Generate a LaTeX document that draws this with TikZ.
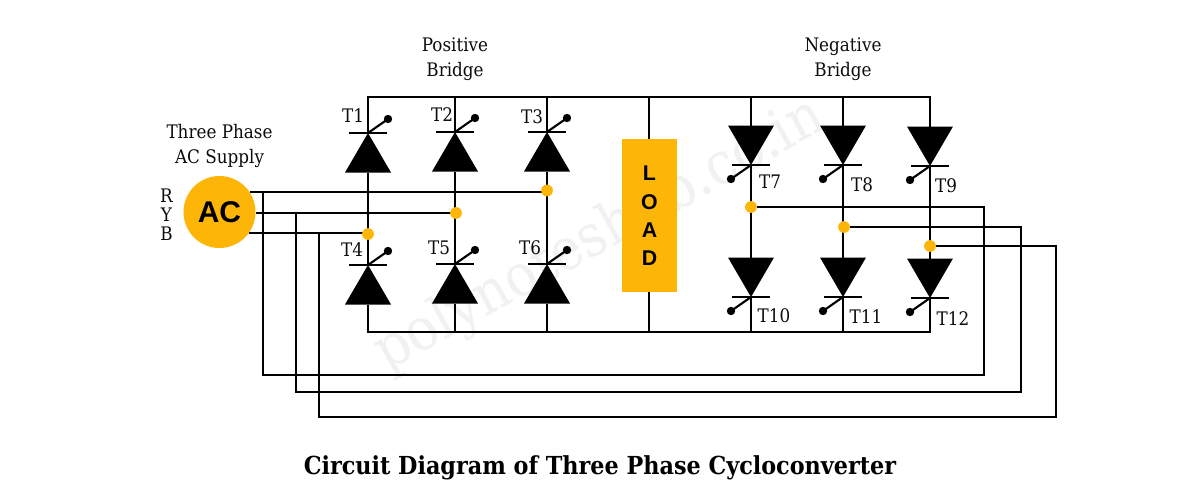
\documentclass[tikz,border=0pt]{standalone}
\usepackage{fontspec}
\setmainfont{DejaVu Serif Condensed}
\newfontfamily\headsans{Liberation Sans}
\usetikzlibrary{calc}
\definecolor{amber}{HTML}{FDB508}
\definecolor{wmark}{HTML}{F1F1F1}
\tikzset{
  wire/.style={line width=1.6pt,line join=miter},
  phasewire/.style={line width=1.6pt},
  gatewire/.style={line width=1.6pt},
  junction/.style={circle,fill=amber,inner sep=0pt,minimum size=8.8pt},
  lbl/.style={font=\fontsize{14pt}{16pt}\selectfont,text=black!95,inner sep=0pt,anchor=base},
  tlbl/.style={font=\fontsize{14pt}{16pt}\selectfont,text=black!95,inner sep=0pt},
  loadletter/.style={inner sep=0pt,font=\headsans\bfseries\fontsize{16pt}{18pt}\selectfont},
}
% thyristor, pointing up: #1 name, #2 column x, #3 bar y
\newcommand{\thyup}[3]{
  \coordinate (#1a) at (#2,#3);
  \coordinate (#1b) at (#2,#3+39.5);
  \fill (#1a) -- ($(#1b)+(-23,0)$) -- ($(#1b)+(23,0)$) -- cycle;
  \draw[gatewire] ($(#1a)+(-19,0)$) -- ($(#1a)+(19,0)$);
  \draw[gatewire] (#1a) -- ($(#1a)+(20,-14)$);
  \fill ($(#1a)+(20,-14)$) circle[radius=4.2];
}
% thyristor, pointing down: #1 name, #2 column x, #3 bar y
\newcommand{\thydown}[3]{
  \coordinate (#1a) at (#2,#3);
  \coordinate (#1b) at (#2,#3-39.5);
  \fill (#1a) -- ($(#1b)+(-23,0)$) -- ($(#1b)+(23,0)$) -- cycle;
  \draw[gatewire] ($(#1a)+(-19,0)$) -- ($(#1a)+(19,0)$);
  \draw[gatewire] (#1a) -- ($(#1a)+(-20,14)$);
  \fill ($(#1a)+(-20,14)$) circle[radius=4.2];
}
\begin{document}
\begin{tikzpicture}[x=0.75pt,y=-0.75pt]
\useasboundingbox (0,0) rectangle (1200,500);
\fill[white] (0,0) rectangle (1200,500);
% watermark
\node[rotate=29,text=wmark,font=\fontsize{44pt}{50pt}\selectfont,inner sep=0pt] (wm) at (600,236) {polynoteshub.co.in};

% bus coordinates
\coordinate (tl) at (368,97);
\coordinate (tr) at (930,97);
\coordinate (bl) at (368,332);
\coordinate (br) at (930,332);

% load
\node[fill=amber,minimum width=41.25pt,minimum height=114.75pt,inner sep=0pt] (load) at (649.5,215.5) {};
\draw[wire] (649,97) -- (649,139);
\draw[wire] (649,292) -- (649,332);

% thyristors
\thyup{A}{368}{133}
\thyup{B}{455}{132}
\thyup{C}{547}{132}
\thyup{D}{368}{265}
\thyup{E}{455}{264}
\thyup{F}{547}{264}
\thydown{G}{751}{165}
\thydown{H}{843}{165}
\thydown{I}{930}{166}
\thydown{J}{751}{297}
\thydown{K}{843}{297}
\thydown{L}{930}{298}

% AC source
\node[circle,fill=amber,minimum size=54pt,inner sep=0pt,font=\headsans\bfseries\fontsize{22.5pt}{26pt}\selectfont] (ac) at (219.5,212) {AC};

% junction wire ends
\coordinate (cR) at (547,192);
\coordinate (cY) at (456,213);
\coordinate (cB) at (368,233);

% wire start points
\coordinate (r0) at (250,192);
\coordinate (y0) at (256,213);
\coordinate (b0) at (249,233);

% phase lines
\draw[phasewire] (r0) -- (cR);
\draw[wire] (y0) -- (cY);
\draw[phasewire] (b0) -- (cB);

% columns and bus
\draw[wire] (Ab) -- (Da);
\draw[wire] (Bb) -- (Ea);
\draw[wire] (Cb) -- (Fa);
\draw[wire] (Ga) -- (Jb);
\draw[wire] (Ha) -- (Kb);
\draw[wire] (Ia) -- (Lb);
\draw[wire] (Db) -- (bl) -- (br) -- (La);
\draw[wire] (Aa) -- (tl) -- (tr) -- (Ib);
\draw[wire] (Eb) -- (455,332);
\draw[wire] (Fb) -- (547,332);
\draw[wire] (455,97) -- (Ba);
\draw[wire] (547,97) -- (Ca);
\draw[wire] (751,97) -- (Gb);
\draw[wire] (843,97) -- (Hb);
\draw[wire] (Ja) -- (751,332);
\draw[wire] (Ka) -- (843,332);

% junction dots
\node[junction] (jR) at (547,190.5) {};
\node[junction] (jY) at (456,213) {};
\node[junction] (jB) at (368,234) {};
\node[junction] (jP) at (751,207) {};
\node[junction] (jQ) at (844,227) {};
\node[junction] (jS) at (930,246) {};

% outer loops
\begin{scope}[wire]
\draw (263,192) -- (263,375) -- (984,375) -- (984,207) -- (jP.east);
\draw (296,213) -- (296,392) -- (1021,392) -- (1021,227) -- (jQ.east);
\draw (319,233) -- (319,417) -- (1056,417) -- (1056,246) -- (jS.east);
\end{scope}

% labels
\node[tlbl] (t1) at (353,116) {T1};
\node[tlbl] (t2) at (442,115) {T2};
\node[tlbl] (t3) at (532,117) {T3};
\node[tlbl] (t4) at (352,250) {T4};
\node[tlbl] (t5) at (439,248) {T5};
\node[tlbl] (t6) at (530,248) {T6};
\node[tlbl] (t7) at (770,182) {T7};
\node[tlbl] (t8) at (862,185) {T8};
\node[tlbl] (t9) at (946,186) {T9};
\node[tlbl] (t10) at (774,316) {T10};
\node[tlbl] (t11) at (866,317) {T11};
\node[tlbl] (t12) at (953,319) {T12};
\node[lbl] (pb1) at (455,51.5) {Positive};
\node[lbl] (pb2) at (455,76.5) {Bridge};
\node[lbl] (nb1) at (843,51.5) {Negative};
\node[lbl] (nb2) at (843,76.5) {Bridge};
\node[lbl] (s1) at (219.5,138.5) {Three Phase};
\node[lbl] (s2) at (219.5,163.5) {AC Supply};
\node[lbl] (r) at (166.5,202.5) {R};
\node[lbl] (y) at (166.5,221.5) {Y};
\node[lbl] (b) at (166.5,240.5) {B};
\node[loadletter] (l1) at (649.5,173) {L};
\node[loadletter] (l2) at (649.5,202) {O};
\node[loadletter] (l3) at (649.5,230) {A};
\node[loadletter] (l4) at (649.5,258) {D};
\node[inner sep=0pt,anchor=base,font=\bfseries\fontsize{18.6pt}{22pt}\selectfont] (title) at (600,474) {Circuit Diagram of Three Phase Cycloconverter};
\end{tikzpicture}
\end{document}
